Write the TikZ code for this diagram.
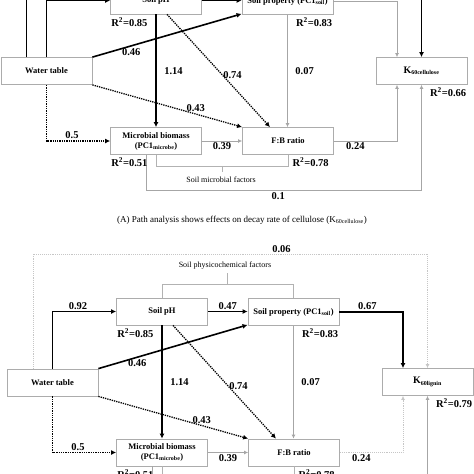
\documentclass[tikz,border=0pt]{standalone}
\usepackage{fontspec}
\setmainfont{Liberation Serif}
\usetikzlibrary{arrows.meta,calc}

\begin{document}
\begin{tikzpicture}[x=1pt,y=-1pt,
  factor/.style={draw=gray!65,line width=.8pt,minimum width=91pt,minimum height=27pt,inner sep=1pt,align=center,
    font=\bfseries\fontsize{8.5}{10}\selectfont},
  coef/.style={text=black,font=\bfseries\fontsize{10.5}{11}\selectfont,inner sep=1.5pt},
  rsq/.style={font=\bfseries\fontsize{10.5}{11}\selectfont,inner sep=1pt,yshift=-2pt},
  sig/.style={-{Latex[length=5pt,width=5pt]},line width=1.6pt},
  neg/.style={-{Latex[length=5pt,width=5pt]},line width=1.3pt,densely dotted},
  nsd/.style={-{Latex[length=4pt,width=4pt]},line width=.9pt,gray!70},
  faint/.style={-{Latex[length=4pt,width=4pt]},line width=.9pt,gray!45,densely dotted},
  grp/.style={line width=.8pt,gray!60},
  note/.style={font=\fontsize{8}{9}\selectfont,inner sep=1pt}
]
\useasboundingbox (0,0) rectangle (474,474);
\clip (0,0) rectangle (474,474);

% (A) cellulose
\node[factor] (phA) at (156,0.5) {Soil pH};
\node[factor] (spA) at (287.5,1) {Soil property (PC1\textsubscript{soil})};
\node[factor] (wtA) at (46.5,71) {Water table};
\node[factor] (kA) at (421.5,71) {\fontsize{10}{10}\selectfont K\textsubscript{\fontsize{6}{6}\selectfont 60cellulose}};
\node[factor] (mbA) at (156,141) {Microbial biomass\\(PC1\textsubscript{microbe})};
\node[factor] (fbA) at (288,141) {F:B ratio};

\draw[sig] ($(wtA.north)+(-20,0)$) |- ($(kA.north)+(0,-114)$) -- (kA.north);
\draw[sig] (wtA.north) |- (phA.west);
\draw[sig] (phA.east) -- (phA.east -| spA.west);
\draw[nsd] (spA.east) -| ($(kA.north)+(-24.5,0)$);
\draw[sig] (wtA.north east) -- node[coef,pos=.26,below]{0.46} ($(spA.south west)+(0,-1)$);
\draw[sig] (phA.south) -- node[coef,right,xshift=6]{1.14} (mbA.north);
\draw[neg] ($(phA.south)+(11,0)$) -- node[coef,pos=.54,anchor=west,inner sep=0]{0.74} ($(fbA.north)+(-18,0)$);
\draw[nsd] (spA.south) -- node[coef,right,xshift=6]{0.07} (spA.south |- fbA.north);
\draw[neg] (wtA.south east) -- node[coef,pos=.69,above]{0.43} (fbA.north west);
\draw[neg] (wtA.south) |- node[coef,pos=.7,above]{0.5} (mbA.west);
\draw[nsd] (mbA.east) -- node[coef,below]{0.39} (fbA.west);
\draw[nsd] (fbA.east) -| node[coef,pos=.17,below]{0.24} ($(kA.south)+(-24.5,0)$);
\draw[nsd] ($(mbA.south)+(-10,0)$) |- node[coef,pos=.74,below]{0.1} ($(kA.south)+(0,106)$) -- (kA.south);

\draw[grp] (mbA.south) -- ++(0,11) -| (fbA.south);
\node[note] (smA) at (221,180) {Soil microbial factors};
\draw[grp] ($(mbA.south)!.5!(fbA.south)+(0,11)$) -- ++(0,6);

\node[rsq,anchor=north west] at (phA.south west) {R\textsuperscript{2}=0.85};
\node[rsq,anchor=north east] at (spA.south east) {R\textsuperscript{2}=0.83};
\node[rsq,anchor=north east] at (kA.south east) {R\textsuperscript{2}=0.66};
\node[rsq,anchor=north west] at (mbA.south west) {R\textsuperscript{2}=0.51};
\node[rsq,anchor=north east] at ($(fbA.south east)+(-4,0)$) {R\textsuperscript{2}=0.78};

\node[font=\fontsize{9}{10}\selectfont] (capA) at (242,220)
  {(A) Path analysis shows effects on decay rate of cellulose (K\textsubscript{\fontsize{6}{6}\selectfont 60cellulose})};

% (B) lignin
\node[factor] (phB) at (162,311.5) {Soil pH};
\node[factor] (spB) at (293.5,312) {Soil property (PC1\textsubscript{soil})};
\node[factor] (wtB) at (52.5,382.5) {Water table};
\node[factor] (kB) at (427.5,382) {\fontsize{10}{10}\selectfont K\textsubscript{\fontsize{6}{6}\selectfont 60lignin}};
\node[factor] (mbB) at (162,452.5) {Microbial biomass\\(PC1\textsubscript{microbe})};
\node[factor] (fbB) at (294,452.5) {F:B ratio};

\draw[faint] ($(wtB.north)+(-19.5,0)$) |- node[coef,pos=.815,above]{0.06} ($(kB.north)+(0,-114)$) -- (kB.north);
\draw[sig] (wtB.north) |- node[coef,pos=.7,above]{0.92} (phB.west);
\draw[sig] (phB.east) -- node[coef,above]{0.47} (phB.east -| spB.west);
\draw[sig] (spB.east) -| node[coef,pos=.22,above]{0.67} ($(kB.north)+(-24.5,0)$);
\draw[sig] (wtB.north east) -- node[coef,pos=.26,below]{0.46} ($(spB.south west)+(0,-1)$);
\draw[sig] (phB.south) -- node[coef,right,xshift=6]{1.14} (mbB.north);
\draw[neg] ($(phB.south)+(11,0)$) -- node[coef,pos=.54,anchor=west,inner sep=0]{0.74} ($(fbB.north)+(-18,0)$);
\draw[nsd] (spB.south) -- node[coef,right,xshift=6]{0.07} (spB.south |- fbB.north);
\draw[neg] (wtB.south east) -- node[coef,pos=.69,above]{0.43} (fbB.north west);
\draw[neg] (wtB.south) |- node[coef,pos=.7,above]{0.5} (mbB.west);
\draw[nsd] (mbB.east) -- node[coef,below]{0.39} (fbB.west);
\draw[faint] (fbB.east) -| node[coef,pos=.17,below]{0.24} ($(kB.south)+(-24.5,0)$);
\draw[nsd] ($(mbB.south)+(-10,0)$) |- ($(kB.south)+(0,106)$) -- (kB.south);

\draw[grp] (phB.north) -- ++(0,-13) -| (spB.north);
\node[note] (spcB) at (225,266) {Soil physicochemical factors};
\draw[grp] ($(phB.north)!.5!(spB.north)+(0,-13)$) -- ++(0,-12);
\draw[grp] (mbB.south) -- ++(0,11) -| (fbB.south);

\node[rsq,anchor=north west] at (phB.south west) {R\textsuperscript{2}=0.85};
\node[rsq,anchor=north east] at (spB.south east) {R\textsuperscript{2}=0.83};
\node[rsq,anchor=north east] at (kB.south east) {R\textsuperscript{2}=0.79};
\node[rsq,anchor=north west] at (mbB.south west) {R\textsuperscript{2}=0.51};
\node[rsq,anchor=north east] at ($(fbB.south east)+(-4,0)$) {R\textsuperscript{2}=0.78};
\end{tikzpicture}
\end{document}
